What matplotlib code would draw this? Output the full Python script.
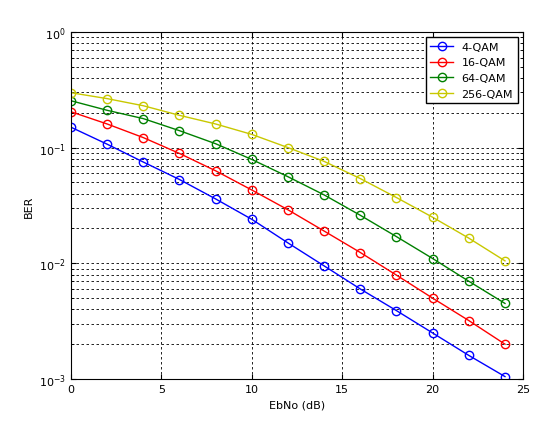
import matplotlib
matplotlib.use("Agg")
import matplotlib.pyplot as plt

ebno = [0, 2, 4, 6, 8, 10, 12, 14, 16, 18, 20, 22, 24]
ber_4 = [0.15, 0.107, 0.075, 0.053, 0.036, 0.024, 0.015, 0.0095, 0.006, 0.0039, 0.0025, 0.0016, 0.00105]
ber_16 = [0.204, 0.16, 0.122, 0.089, 0.063, 0.043, 0.029, 0.019, 0.0124, 0.0079, 0.005, 0.0032, 0.002]
ber_64 = [0.254, 0.21, 0.178, 0.14, 0.108, 0.079, 0.056, 0.039, 0.026, 0.017, 0.011, 0.007, 0.0045]
ber_256 = [0.298, 0.265, 0.23, 0.19, 0.16, 0.13, 0.1, 0.076, 0.054, 0.037, 0.025, 0.0165, 0.0105]
labels = ["4-QAM", "16-QAM", "64-QAM", "256-QAM"]
colors = ["#0000ff", "#ff0000", "#008000", "#c8c800"]

fig = plt.figure(figsize=(5.46, 4.27), dpi=100)
ax = fig.add_axes([0.13, 0.11, 0.828, 0.813])
for y, lab, c in zip([ber_4, ber_16, ber_64, ber_256], labels, colors):
    ax.semilogy(ebno, y, '-o', color=c, mfc='none', ms=6, lw=1, label=lab)
ax.set_xlim(0, 25)
ax.set_ylim(1e-3, 1)
ax.grid(True, which='both', color='black', linestyle='--', linewidth=0.6, dashes=(3, 3))
ax.tick_params(which='both', direction='in', labelsize=8, top=True, right=True)
ax.set_xlabel("EbNo (dB)", fontsize=8)
ax.set_ylabel("BER", fontsize=8)
leg = ax.legend(loc='upper right', fontsize=8, fancybox=False, framealpha=1, edgecolor='black')
fig.savefig("out.png", dpi=100)
